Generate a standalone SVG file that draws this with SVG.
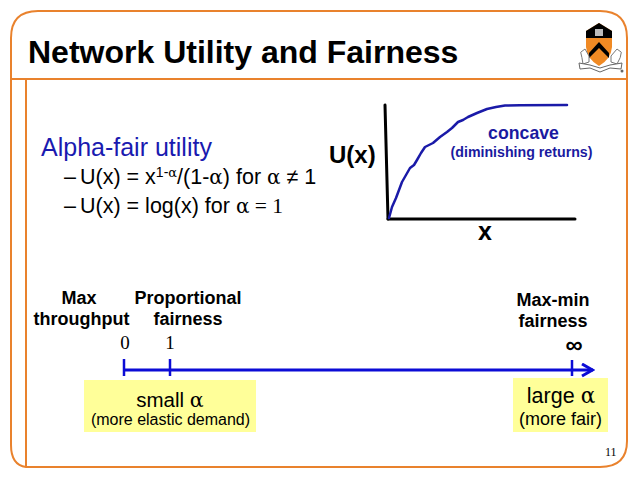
<svg xmlns="http://www.w3.org/2000/svg" width="638" height="478" viewBox="0 0 638 478">
<style>
text{font-family:"Liberation Sans",Arial,sans-serif;fill:#000}
.g{font-family:"Liberation Serif","DejaVu Serif",serif}
.a{font-family:"DejaVu Serif",serif;font-weight:normal}
.b{font-weight:bold}
.f{fill:none;stroke-linecap:round;stroke-linejoin:round}
.o{fill:none;stroke:#e9822d;stroke-width:2}
</style>
<defs><marker id="arr" markerUnits="userSpaceOnUse" markerWidth="14" markerHeight="16" refX="12" refY="7" orient="auto"><path d="M1 1L11.500 7L1 13" fill="none" stroke="#0c0cd6" stroke-width="3"/></marker></defs>
<rect width="638" height="478" fill="#fff"/>
<g id="frame">
<path class="o" d="M11 79V38Q11 11 38 11H600Q627 11 627 38V441Q627 467 600 467H26Q11 465 11 445V79H627"/>
<path class="o" d="M26 79V467"/>
</g>
<text x="28" y="63" font-size="32" class="b">Network Utility and Fairness</text>
<g id="crest">
<path d="M586 31L599 23L612 31V47Q611 59 599 66Q587 59 586 47Z" fill="#f08a24"/>
<path d="M586 31L599 23L612 31V38H586Z" fill="#000"/>
<path d="M589 53L599 42L609 53L609 58L599 48L589 58Z" fill="#000"/>
<rect x="595" y="29" width="8" height="7" fill="#bbb"/>
<path class="f" d="M581 52L585 49L589 56L589 62L583 64L582 58ZM621 52L617 49L611 56L611 62L617 64L620 58Z" stroke="#777" stroke-width="1"/>
<path d="M579 63L590 65L600 68L610 65L622 63L621 69L610 68L600 72L590 68L580 69Z" fill="#fff" stroke="#666" stroke-width="1"/>
<circle cx="622" cy="71" r="1.500" fill="#666"/>
</g>
<text x="41" y="156" font-size="25" style="fill:#1a1ab0">Alpha-fair utility</text>
<text x="64" y="184" font-size="21.500">–</text>
<text x="80" y="184" font-size="21.500">U(x) = x<tspan font-size="14" dy="-7">1-</tspan><tspan class="a" font-size="13">α</tspan><tspan dy="7">/(1-</tspan><tspan class="a" font-size="20">α</tspan>) for <tspan class="a" font-size="20">α</tspan> ≠ 1</text>
<text x="64" y="213" font-size="21.500">–</text>
<text x="80" y="213" font-size="21.500">U(x) = log(x) for <tspan class="a" font-size="20">α</tspan><tspan class="g"> = 1</tspan></text>
<text x="329" y="163" font-size="24" class="b">U(x)</text>
<text x="478" y="240" font-size="25" class="b">x</text>
<g id="connectors">
<path class="f" d="M385 105L388 219" stroke="#000" stroke-width="3"/>
<path class="f" d="M388 219H575" stroke="#000" stroke-width="3"/>
<path class="f" d="M389 218L392 207L396 198L399 190L402 182L406 175L410 168L414 165L417 160L421 153L425 147L433 143L440 137L447 132L452 128L458 122L463 120L468 117L477 113L487 109L496 107L505 105.500L520 105.300L567 105" stroke="#1a1aa8" stroke-width="2.500"/>
<path d="M124 370H593" stroke="#0c0cd6" stroke-width="3" fill="none" marker-end="url(#arr)"/>
<path d="M124 359V376M170 359V376M572 360V376" stroke="#0c0cd6" stroke-width="2.500" fill="none"/>
</g>
<g id="concave"><text x="523.500" y="139" font-size="17.700" class="b" text-anchor="middle" style="fill:#1a1aa0">concave</text>
<text x="521.500" y="157" font-size="14.200" class="b" text-anchor="middle" style="fill:#1a1aa0">(diminishing returns)</text></g>
<g id="max-throughput"><text x="79" y="304" font-size="18" class="b" text-anchor="middle">Max</text>
<text x="81.500" y="325" font-size="18" class="b" text-anchor="middle">throughput</text>
<text x="125" y="349" font-size="19" class="g" text-anchor="middle">0</text></g>
<g id="proportional"><text x="188" y="304" font-size="18" class="b" text-anchor="middle">Proportional</text>
<text x="188" y="325" font-size="18" class="b" text-anchor="middle">fairness</text>
<text x="170" y="349" font-size="19" class="g" text-anchor="middle">1</text></g>
<g id="max-min"><text x="553" y="306" font-size="18" class="b" text-anchor="middle">Max-min</text>
<text x="553" y="327" font-size="18" class="b" text-anchor="middle">fairness</text>
<text x="574" y="353" font-size="24" class="b" text-anchor="middle">∞</text></g>
<g id="small"><rect x="84" y="380" width="172" height="52" fill="#ffff99"/>
<text x="170" y="407" font-size="20.500" text-anchor="middle">small <tspan class="a">α</tspan></text>
<text x="170.500" y="425" font-size="16" text-anchor="middle">(more elastic demand)</text></g>
<g id="large"><rect x="513" y="378" width="95" height="54" fill="#ffff99"/>
<text x="561" y="403" font-size="21.500" text-anchor="middle">large <tspan class="a">α</tspan></text>
<text x="560.500" y="425" font-size="18" text-anchor="middle">(more fair)</text></g>
<text x="605" y="456" font-size="12" class="g">11</text>
</svg>
